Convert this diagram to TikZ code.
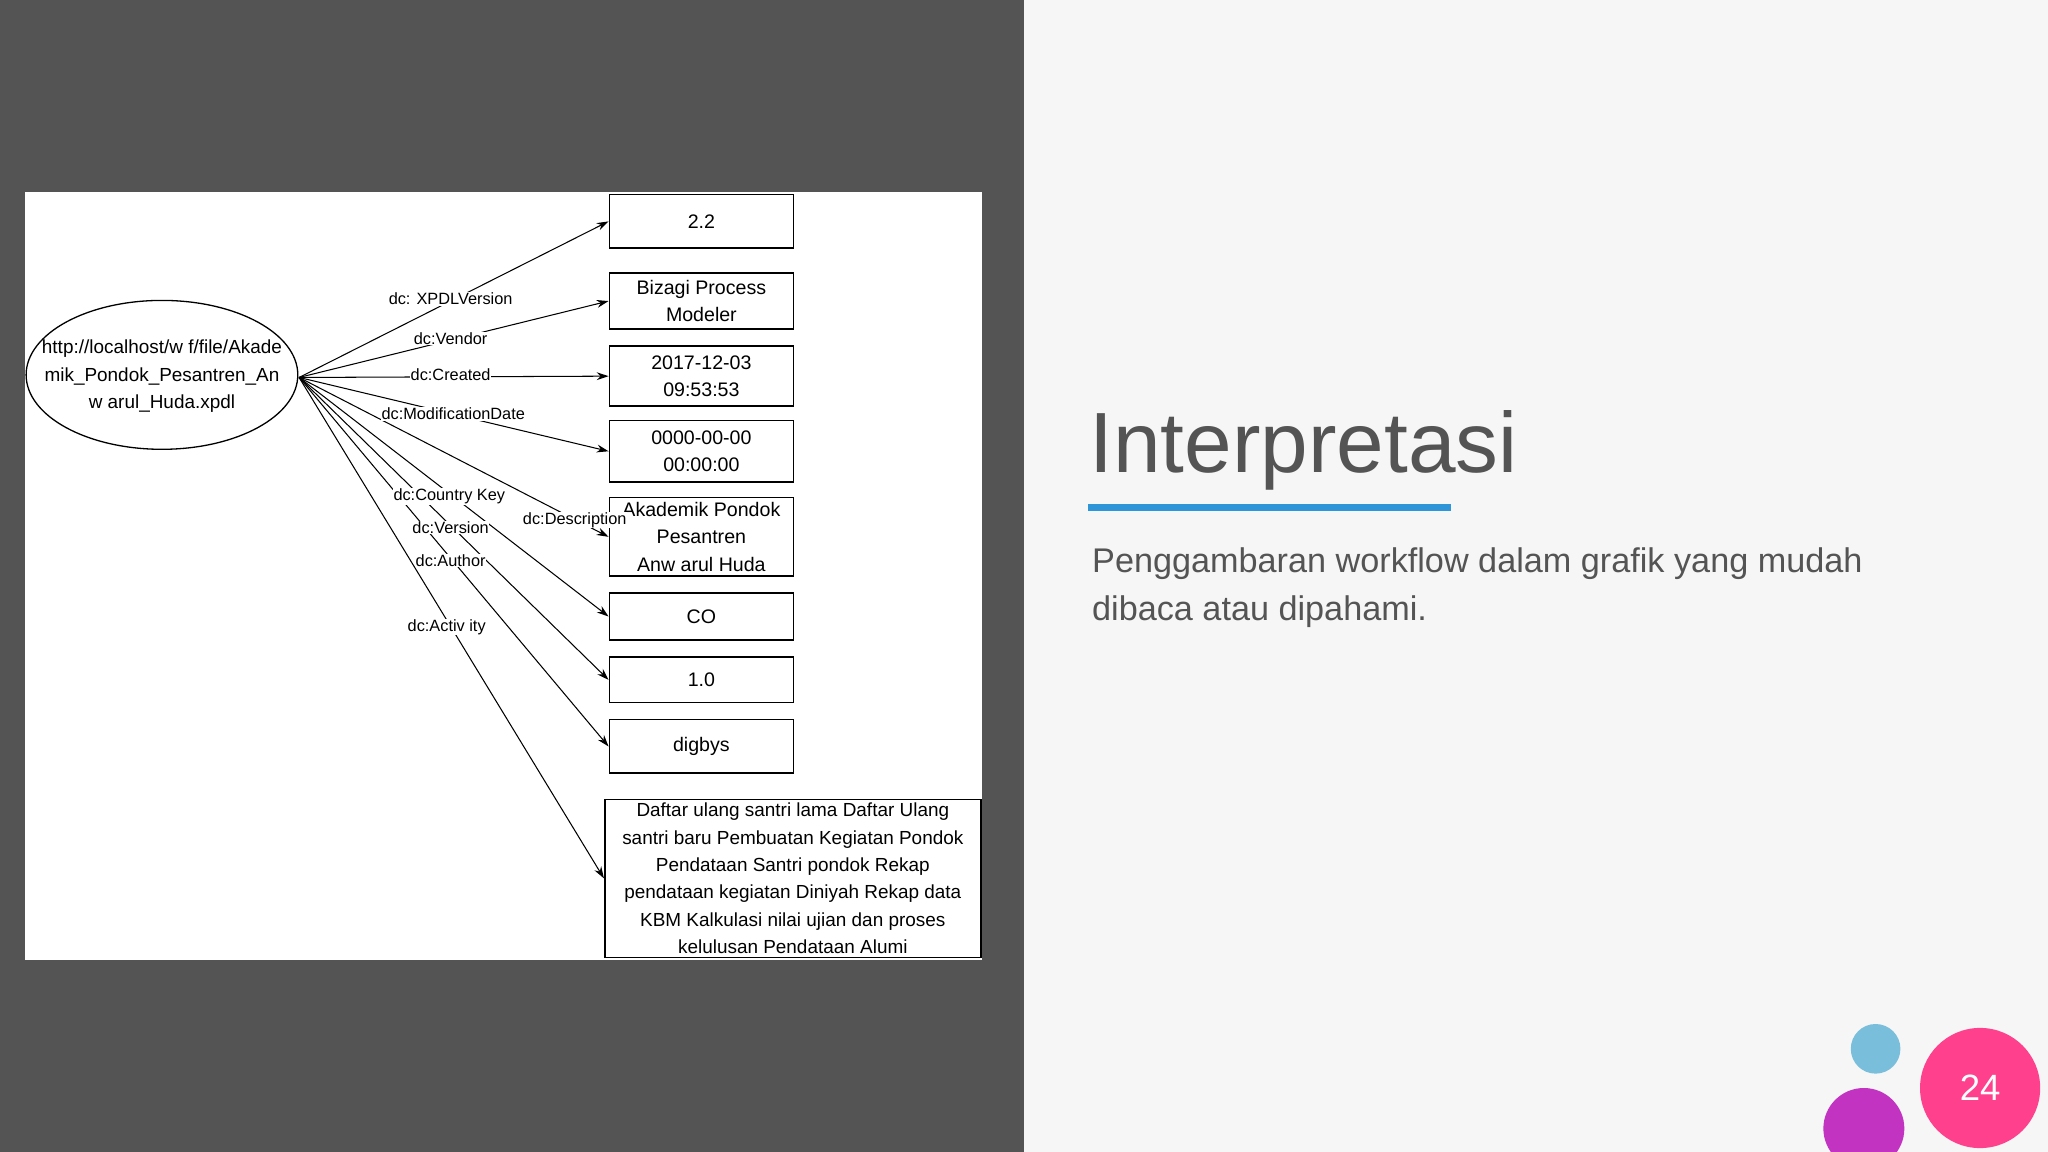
\documentclass[tikz,border=0pt]{standalone}
\usepackage{fontspec}
\usetikzlibrary{shapes.geometric,arrows.meta}
\setmainfont{Liberation Sans}
\begin{document}
\begin{tikzpicture}[x=1pt,y=-1pt,
  bx/.style={draw,line width=1.2pt,minimum width=141pt,align=center,font=\fontsize{15}{21}\selectfont,inner sep=1pt},
  lb/.style={font=\fontsize{12.5}{14}\selectfont,fill=white,inner sep=0.5pt},
  ar/.style={-{Stealth[length=9pt,width=6pt]},line width=0.8pt}]
\useasboundingbox (0,0) rectangle (1568,882);
\fill[black!3.5] (0,0) rectangle (1568,882);
\fill[black!67] (0,0) rectangle (784,882);
\fill[white] (19,147) rectangle (752,735);
\node[draw,ellipse,line width=1pt,minimum width=208pt,minimum height=114pt,inner sep=0pt] (e) at (124,287) {};
\node[align=center,font=\fontsize{14.5}{21}\selectfont] at (124,288) {http://localhost/w f/file/Akade\\mik\_Pondok\_Pesantren\_An\\w arul\_Huda.xpdl};
\coordinate (o) at (229,289);
\node[bx,minimum height=41pt] (b1) at (537,169.5) {2.2};
\node[bx,minimum height=43pt] (b2) at (537,230.5) {Bizagi Process\\Modeler};
\node[bx,minimum height=46pt] (b3) at (537,288) {2017-12-03\\09:53:53};
\node[bx,minimum height=47pt] (b4) at (537,345.5) {0000-00-00\\00:00:00};
\node[bx,minimum height=60pt] (b5) at (537,411) {Akademik Pondok\\Pesantren\\Anw arul Huda};
\node[bx,minimum height=36pt] (b6) at (537,472) {CO};
\node[bx,minimum height=35pt] (b7) at (537,520.5) {1.0};
\node[bx,minimum height=41pt] (b8) at (537,571.5) {digbys};
\node[bx,minimum width=288pt,minimum height=121pt,font=\fontsize{14.5}{21}\selectfont] (b9) at (607,672.5) {Daftar ulang santri lama Daftar Ulang\\santri baru Pembuatan Kegiatan Pondok\\Pendataan Santri pondok Rekap\\pendataan kegiatan Diniyah Rekap data\\KBM Kalkulasi nilai ujian dan proses\\kelulusan Pendataan Alumi};
\draw[ar] (o) -- (b1.west);
\draw[ar] (o) -- (b2.west);
\draw[ar] (o) -- (b3.west);
\draw[ar] (o) -- (b4.west);
\draw[ar] (o) -- (b5.west);
\draw[ar] (o) -- (b6.west);
\draw[ar] (o) -- (b7.west);
\draw[ar] (o) -- (b8.west);
\draw[ar] (o) -- (b9.west);
\node[lb] (l1) at (345,229) {dc: XPDLVersion};
\node[lb] (l2) at (345,259) {dc:Vendor};
\node[lb] (l3) at (345,287) {dc:Created};
\node[lb] (l4) at (347,317) {dc:ModificationDate};
\node[lb] (l5) at (344,380) {dc:Country Key};
\node[lb] (l6) at (345,404) {dc:Version};
\node[lb] (l7) at (345,429) {dc:Author};
\node[lb] (l8) at (440,398) {dc:Description};
\node[lb] (l9) at (342,480) {dc:Activ ity};
\node[anchor=base west,text=black!67,font=\fontsize{65.5}{66}\selectfont,inner sep=0pt] (t) at (834,362) {Interpretasi};
\fill[cyan!70!blue!85] (833,386) rectangle (1111,391);
\node[anchor=base west,text=black!67,align=left,font=\fontsize{26.2}{37}\selectfont,inner sep=0pt] (p) at (836,475) {Penggambaran workflow dalam grafik yang mudah\\dibaca atau dipahami.};
\fill[cyan!55!teal!60!white] (1436,803) circle (19);
\fill[violet!60!magenta!80!white] (1427,864) circle (31);
\fill[red!60!magenta!75!white] (1516,833) circle (46);
\node[text=white,font=\fontsize{28}{28}\selectfont] (n) at (1516,833) {24};
\end{tikzpicture}
\end{document}
